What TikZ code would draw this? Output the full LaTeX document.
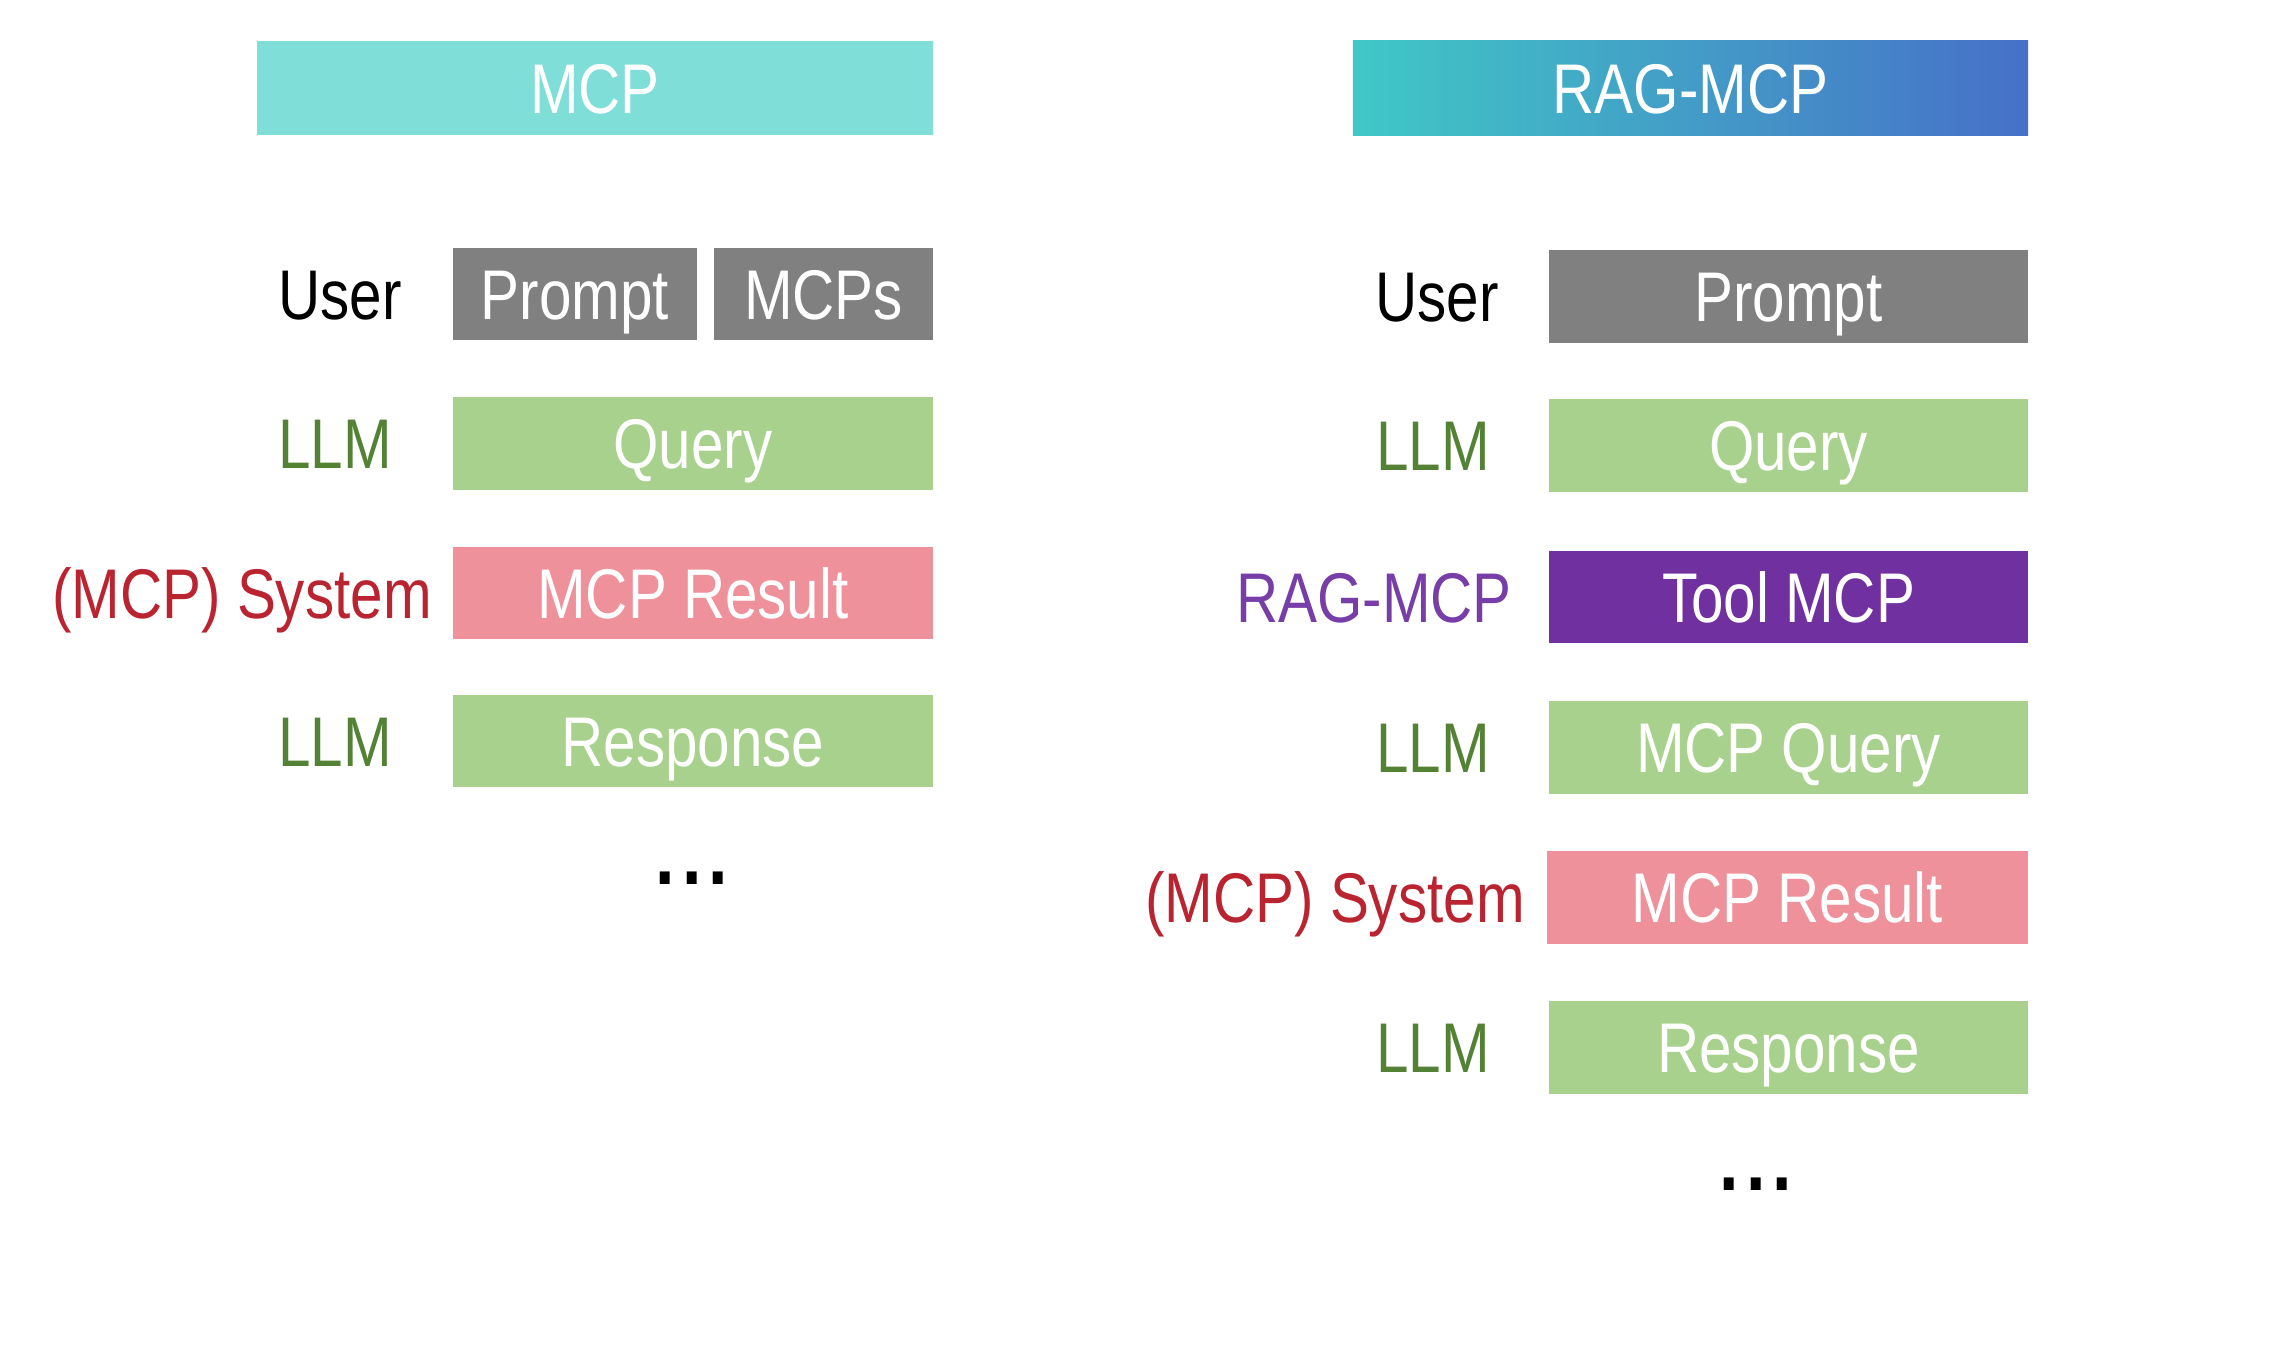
\documentclass[tikz,border=0pt]{standalone}
\usepackage{fontspec}
\setmainfont[FakeStretch=0.83]{Liberation Sans}
\definecolor{hdrteal}{RGB}{128,222,217}
\definecolor{gradL}{RGB}{64,200,198}
\definecolor{gradR}{RGB}{70,112,200}
\definecolor{boxgray}{RGB}{128,128,128}
\definecolor{boxgreen}{RGB}{169,209,142}
\definecolor{boxpink}{RGB}{239,145,155}
\definecolor{boxpurple}{RGB}{112,48,160}
\definecolor{lblgreen}{RGB}{84,130,53}
\definecolor{lblred}{RGB}{186,36,48}
\definecolor{lblpurple}{RGB}{120,62,168}
\begin{document}
\begin{tikzpicture}[x=0.01cm,y=-0.01cm,
  box/.style={rectangle, inner sep=0pt, text=white, font=\fontsize{20}{22}\selectfont, minimum height=0.925cm, text height=14.3pt, text depth=0pt},
  lbl/.style={inner sep=0pt, font=\fontsize{20}{22}\selectfont, text height=14.3pt, text depth=0pt},
  dotsty/.style={inner sep=0pt, font=\fontsize{24}{26}\selectfont\bfseries}]
\useasboundingbox (0,0) rectangle (2276,1360);
\fill[white] (0,0) rectangle (2276,1360);
% Left column
\node[box, fill=hdrteal, minimum width=6.76cm, minimum height=0.94cm] (hL) at (595,88) {MCP};
\node[lbl] (uL) at (340,294) {User};
\node[box, fill=boxgray, minimum width=2.44cm] (pL) at (575,294) {Prompt};
\node[box, fill=boxgray, minimum width=2.19cm] (mL) at (823.5,294) {MCPs};
\node[lbl, text=lblgreen] (l1L) at (335,443.5) {LLM};
\node[box, fill=boxgreen, minimum width=4.8cm] (qL) at (693,443.5) {Query};
\node[lbl, text=lblred] (sL) at (242,593) {(MCP) System};
\node[box, fill=boxpink, minimum width=4.8cm] (rL) at (693,593) {MCP Result};
\node[lbl, text=lblgreen] (l2L) at (335,741) {LLM};
\node[box, fill=boxgreen, minimum width=4.8cm] (resL) at (693,741) {Response};
\node[dotsty] (dL) at (692,878) {.\kern2pt.\kern2pt.};
% Right column
\node[box, left color=gradL, right color=gradR, minimum width=6.75cm, minimum height=0.94cm] (hR) at (1690.5,88) {RAG-MCP};
\node[lbl] (uR) at (1437,296.5) {User};
\node[box, fill=boxgray, minimum width=4.79cm] (pR) at (1788.5,296.5) {Prompt};
\node[lbl, text=lblgreen] (l1R) at (1433,445.5) {LLM};
\node[box, fill=boxgreen, minimum width=4.79cm] (qR) at (1788.5,445.5) {Query};
\node[lbl, text=lblpurple] (rgR) at (1374,597) {RAG-MCP};
\node[box, fill=boxpurple, minimum width=4.79cm] (tR) at (1788.5,597) {Tool MCP};
\node[lbl, text=lblgreen] (l2R) at (1433,747.5) {LLM};
\node[box, fill=boxgreen, minimum width=4.79cm] (mqR) at (1788.5,747.5) {MCP Query};
\node[lbl, text=lblred] (sR) at (1335,897.5) {(MCP) System};
\node[box, fill=boxpink, minimum width=4.81cm] (rR) at (1787.5,897.5) {MCP Result};
\node[lbl, text=lblgreen] (l3R) at (1433,1047.5) {LLM};
\node[box, fill=boxgreen, minimum width=4.79cm] (resR) at (1788.5,1047.5) {Response};
\node[dotsty] (dR) at (1756,1184) {.\kern2pt.\kern2pt.};
\end{tikzpicture}
\end{document}
